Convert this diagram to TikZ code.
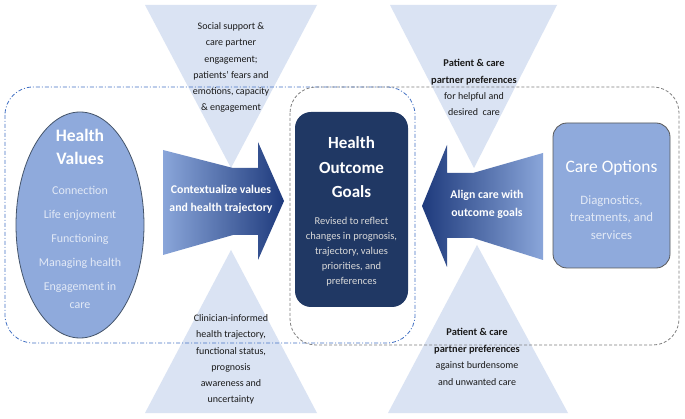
\documentclass[tikz,border=0pt]{standalone}
\usepackage{fontspec}
\setmainfont{Carlito}
\usetikzlibrary{shapes.geometric}
\definecolor{tri}{HTML}{DAE3F3}
\definecolor{hvfill}{HTML}{8FAADC}
\definecolor{hvborder}{HTML}{44546A}
\definecolor{navy}{HTML}{203864}
\definecolor{dashblue}{HTML}{4472C4}
\definecolor{dashgray}{HTML}{7F7F7F}
\definecolor{lighttext}{HTML}{E2E9F6}
\definecolor{softtext}{HTML}{D9D9D9}
\definecolor{tritext}{HTML}{1A1A1A}
\definecolor{arrdark}{HTML}{1E3A7C}
\definecolor{arrmid}{HTML}{2D4F9A}
\definecolor{arrlight}{HTML}{8AA6DA}
\definecolor{coborder}{HTML}{595959}
\tikzset{
  tribox/.style={fill=tri},
  tritxt/.style={text=tritext, align=center, inner sep=0pt, font=\fontsize{10}{16.2}\selectfont},
  smalltxt/.style={align=center, inner sep=0pt},
  arrowtxt/.style={text=white, align=center, inner sep=0pt, font=\bfseries\fontsize{11.8}{18}\selectfont},
}
\begin{document}
\begin{tikzpicture}[x=1pt,y=-1pt]
\useasboundingbox[fill=white] (0,0) rectangle (685,419);
% background triangles
\fill[tribox] (145,5) -- (317,5) -- (231,168) -- cycle;
\fill[tribox] (145,413) -- (317,413) -- (231,250) -- cycle;
\fill[tribox] (390,5) -- (557,5) -- (474,168) -- cycle;
\fill[tribox] (388,413) -- (568,413) -- (477,245) -- cycle;
% dashed grouping boxes
\draw[dashblue, line width=0.8pt, dash pattern=on 4pt off 2pt on 1pt off 2pt, rounded corners=28pt] (5,87) rectangle (415,343);
\draw[dashgray, line width=0.8pt, dash pattern=on 3pt off 2pt, rounded corners=26pt] (290,87) rectangle (679,345);
% triangle texts
\node[tritxt] (t1) at (231,67.5) {Social support \&\\care partner\\engagement;\\patients’ fears and\\emotions, capacity\\\& engagement};
\node[tritxt] (t2) at (474,87.5) {\textbf{\fontsize{10.4}{16.2}\selectfont Patient \& care}\\\textbf{\fontsize{10.4}{16.2}\selectfont partner preferences}\\for helpful and\\desired\ \ care};
\node[tritxt] (t3) at (231,359.5) {Clinician-informed\\health trajectory,\\functional status,\\prognosis\\awareness and\\uncertainty};
\node[tritxt, font=\fontsize{10}{16.7}\selectfont] (t4) at (477,357) {\textbf{\fontsize{10.4}{16.7}\selectfont Patient \& care}\\\textbf{\fontsize{10.4}{16.7}\selectfont partner preferences}\\against burdensome\\and unwanted care};
% health values ellipse
\node[ellipse, draw=hvborder, fill=hvfill, line width=0.8pt, minimum width=128pt, minimum height=226pt, inner sep=0pt] (hv) at (80,225) {};
\node[smalltxt, text=white, font=\bfseries\fontsize{17.5}{23}\selectfont] (hvtitle) at (80,146.5) {Health\\Values};
\node[smalltxt, text=lighttext, font=\fontsize{12}{24}\selectfont] (hvitems) at (80,247) {Connection\\Life enjoyment\\Functioning\\Managing health\\Engagement in\\[-6pt]care};
% left arrow
\shade[left color=arrlight, middle color=arrmid, right color=arrdark]
  (163,150) -- (233,168) -- (258,168) -- (258,142) -- (284,201) -- (258,260) -- (258,235) -- (233,235) -- (163,255) -- cycle;
\node[arrowtxt] (a1) at (221,199) {Contextualize values\\and health trajectory};
% right arrow
\shade[left color=arrdark, middle color=arrmid, right color=arrlight]
  (543,153) -- (473,173) -- (447,173) -- (447,145) -- (422,206) -- (447,267) -- (447,238) -- (473,238) -- (543,260) -- cycle;
\node[arrowtxt] (a2) at (487,204) {Align care with\\outcome goals};
% health outcome goals
\node[fill=navy, rounded corners=16pt, minimum width=113pt, minimum height=195pt, inner sep=0pt] (hog) at (351.5,209.5) {};
\node[smalltxt, text=white, font=\bfseries\fontsize{17}{24.5}\selectfont] (hogtitle) at (351.5,167.5) {Health\\Outcome\\Goals};
\node[smalltxt, text=softtext, font=\fontsize{10.5}{15}\selectfont] (hogtext) at (351.5,252) {Revised to reflect\\changes in prognosis,\\trajectory, values\\priorities, and\\preferences};
% care options
\node[draw=coborder, fill=hvfill, line width=0.8pt, rounded corners=14pt, minimum width=117pt, minimum height=145pt, inner sep=0pt] (co) at (611.5,195.5) {};
\node[smalltxt, text=white, font=\fontsize{17.5}{20}\selectfont] (cotitle) at (611.5,168) {Care Options};
\node[smalltxt, text=lighttext, font=\fontsize{12.8}{17.5}\selectfont] (cotext) at (611.5,217.5) {Diagnostics,\\treatments, and\\services};
\end{tikzpicture}
\end{document}
